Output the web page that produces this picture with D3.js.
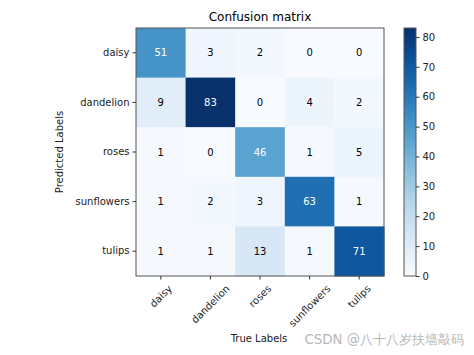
<!DOCTYPE html>
<html><head><meta charset="utf-8">
<script src="https://cdn.jsdelivr.net/npm/d3@7"></script>
<style>body{margin:0;background:#fff}svg{display:block}text{font-family:"DejaVu Sans",sans-serif}</style>
</head><body><svg id="c" width="474" height="355"></svg>
<script>
const predLabels = ["daisy","dandelion","roses","sunflowers","tulips"];
const trueLabels = ["daisy","dandelion","roses","sunflowers","tulips"];
const matrix = [
  [51, 3, 2, 0, 0],
  [9, 83, 0, 4, 2],
  [1, 0, 46, 1, 5],
  [1, 2, 3, 63, 1],
  [1, 1, 13, 1, 71]
];
const cbTicks = [0,10,20,30,40,50,60,70,80];

const svg = d3.select("#c");
const L=136, R=384, T=28, B=276;
const maxV = d3.max(matrix.flat());
const color = d3.scaleSequential(d3.interpolateBlues).domain([0, maxV]);
const x = d3.scaleBand().domain(trueLabels).range([L,R]);
const y = d3.scaleBand().domain(predLabels).range([T,B]);

const cells=[];
matrix.forEach((row,i)=>row.forEach((v,j)=>cells.push({r:predLabels[i],c:trueLabels[j],v})));
svg.selectAll("rect.cell").data(cells).join("rect").attr("class","cell")
  .attr("x",d=>x(d.c)).attr("y",d=>y(d.r)).attr("width",x.bandwidth()+0.5).attr("height",y.bandwidth()+0.5)
  .attr("fill",d=>color(d.v));
svg.selectAll("text.val").data(cells).join("text").attr("class","val")
  .attr("x",d=>x(d.c)+x.bandwidth()/2).attr("y",d=>y(d.r)+y.bandwidth()/2)
  .attr("text-anchor","middle").attr("dy","0.35em").attr("font-size",10)
  .attr("fill",d=>d.v>maxV/2?"#fff":"#000").text(d=>d.v);
svg.append("rect").attr("x",L).attr("y",T).attr("width",R-L).attr("height",B-T)
  .attr("fill","none").attr("stroke","#555").attr("stroke-width",1);

// axes
const yAx = svg.append("g").attr("transform",`translate(${L},0)`).call(d3.axisLeft(y).tickSize(3.5).tickPadding(3));
const xAx = svg.append("g").attr("transform",`translate(0,${B})`).call(d3.axisBottom(x).tickSize(3.5).tickPadding(3));
[yAx,xAx].forEach(g=>{g.select(".domain").remove();g.selectAll("line").attr("stroke","#333");
  g.selectAll("text").attr("font-size",10).attr("fill","#222").attr("font-family","DejaVu Sans");});
xAx.selectAll("text").each(function(){
  const t=d3.select(this);
  const tw=this.getComputedTextLength();
  const cyOff = 7 + (tw*0.7071 + 7.5)/2;
  t.attr("text-anchor","middle").attr("y",null).attr("dy","0.35em")
   .attr("transform",`translate(0,${cyOff}) rotate(-45)`);
});

// colorbar
const cbL=404, cbW=12;
const cy = d3.scaleLinear().domain([0,maxV]).range([B,T]);
const defs=svg.append("defs");
const grad=defs.append("linearGradient").attr("id","g").attr("x1",0).attr("y1",1).attr("x2",0).attr("y2",0);
d3.range(0,1.0001,0.05).forEach(t=>grad.append("stop").attr("offset",t).attr("stop-color",d3.interpolateBlues(t)));
svg.append("rect").attr("x",cbL).attr("y",T).attr("width",cbW).attr("height",B-T).attr("fill","url(#g)")
  .attr("stroke","#555").attr("stroke-width",1);
const cAx=svg.append("g").attr("transform",`translate(${cbL+cbW},0)`).call(d3.axisRight(cy).tickValues(cbTicks).tickSize(3.5).tickPadding(3));
cAx.select(".domain").remove();
cAx.selectAll("line").attr("stroke","#333");
cAx.selectAll("text").attr("font-size",10).attr("fill","#222").attr("font-family","DejaVu Sans");

// titles
svg.append("text").attr("x",(L+R)/2).attr("y",21).attr("text-anchor","middle").attr("font-size",12).attr("fill","#000").text("Confusion matrix");
svg.append("text").attr("x",259).attr("y",342).attr("text-anchor","middle").attr("font-size",10).attr("fill","#222").text("True Labels");
svg.append("text").attr("transform",`translate(63,${(T+B)/2}) rotate(-90)`).attr("text-anchor","middle").attr("font-size",10).attr("fill","#222").text("Predicted Labels");
svg.append("text").attr("x",464).attr("y",344).attr("text-anchor","end").attr("font-size",13.3).attr("fill","#b8b8b8")
  .attr("font-family","'Noto Sans CJK SC',sans-serif").text("CSDN @八十八岁扶墙敲码");
</script></body></html>
